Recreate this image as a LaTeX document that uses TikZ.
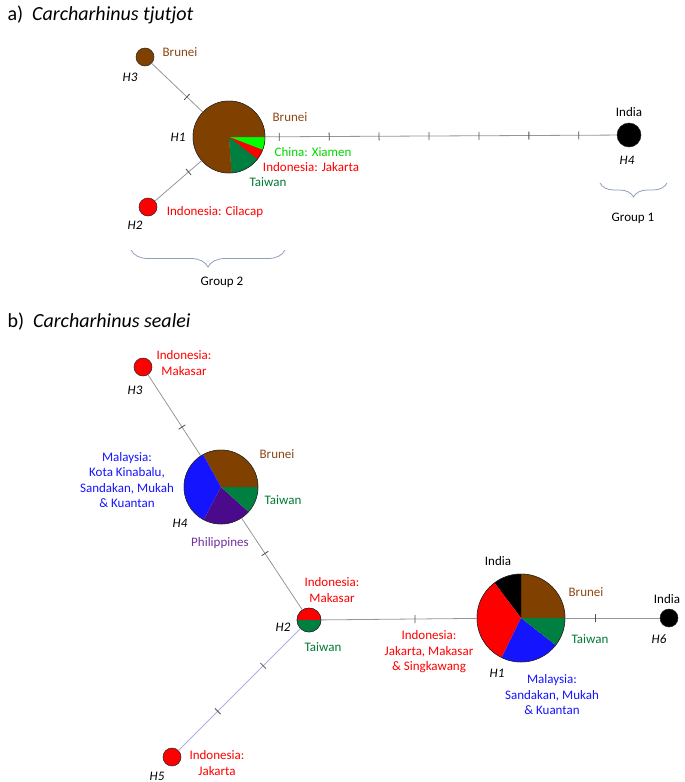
\documentclass[tikz,border=0pt]{standalone}
\usepackage{fontspec}
\setmainfont{Carlito}
\usetikzlibrary{decorations.pathreplacing}

\definecolor{cbrown}{RGB}{128,64,0}
\definecolor{clime}{RGB}{0,255,0}
\definecolor{cred}{RGB}{255,0,0}
\definecolor{cgreen}{RGB}{0,128,64}
\definecolor{cblue}{RGB}{20,20,255}
\definecolor{cpurple}{RGB}{75,10,140}
\definecolor{tbrown}{RGB}{140,70,20}
\definecolor{tlime}{RGB}{0,215,0}
\definecolor{tgreen}{RGB}{0,120,50}
\definecolor{tpurple}{RGB}{112,48,160}
\definecolor{linegray}{RGB}{150,150,150}
\definecolor{linelav}{RGB}{175,175,225}
\definecolor{tickgray}{RGB}{80,80,80}
\definecolor{bracegray}{RGB}{140,160,190}

\begin{document}
\begin{tikzpicture}[x=1pt,y=1pt,
  hap/.style={circle, draw=black!85, line width=0.5pt, inner sep=0pt},
  lbl/.style={font=\fontsize{13}{15.5}\selectfont, align=center, inner sep=0pt},
  hlbl/.style={font=\fontsize{13}{15.5}\selectfont\itshape, inner sep=0pt},
  link/.style={draw=linegray, line width=0.8pt},
  mtick/.style={sloped, draw=tickgray, line width=0.8pt, inner sep=0pt, minimum width=0pt, minimum height=8pt},
  grp/.style={decorate, decoration={brace, mirror, amplitude=#1}, draw=bracegray, line width=0.8pt}]
\useasboundingbox (0,0) rectangle (685,-782);

% a) Carcharhinus tjutjot
\node[anchor=west, font=\fontsize{20}{24}\selectfont] (ta) at (4,-15) {a)\hspace{0.45em}\textit{Carcharhinus tjutjot}};

\node[hap, fill=cbrown, minimum size=18] (a3) at (145,-57) {};
\node[hap, minimum size=72] (a1) at (229,-137) {};
\node[hap, fill=cred, minimum size=18] (a2) at (148,-207) {};
\node[hap, fill=black, minimum size=24] (a4) at (629,-135) {};

\foreach \s/\e/\c in {-86/0/cbrown, 0/-21/clime, -21/-38/cred, -38/-86/cgreen}
  \fill[\c] (a1.center) -- ++(\s:36) arc[start angle=\s, end angle=\e, radius=36] -- cycle;
\fill[cbrown] (a1.center) -- ++(0:36) arc[start angle=0, end angle=274, radius=36] -- cycle;
\draw[black!85, line width=0.5pt] (a1.center) circle[radius=36];

\draw[link] (a3) -- (a1) node[mtick, pos=0.69] {};
\draw[link] (a2) -- (a1) node[mtick, pos=0.72] {};
\draw[link] (a1) -- (a4) \foreach \k in {1,...,7} { node[mtick, pos={(50*\k-36)/352}] {} };

\node[lbl, text=tbrown] (a3_d) at (180,-52) {Brunei};
\node[hlbl] (a3_h) at (130,-77) {H3};
\node[lbl, text=tbrown] (a1_d) at (290,-117) {Brunei};
\node[hlbl] (a1_h) at (178,-137) {H1};
\node[lbl, text=tlime] (a1_c) at (313,-152) {China: Xiamen};
\node[lbl, text=cred] (a1_i) at (311,-167) {Indonesia: Jakarta};
\node[lbl, text=tgreen] (a1_t) at (268,-182) {Taiwan};
\node[lbl, text=cred] (a2_d) at (215,-212) {Indonesia: Cilacap};
\node[hlbl] (a2_h) at (135,-225) {H2};
\node[lbl] (a4_d) at (629,-112) {India};
\node[hlbl] (a4_h) at (627,-160) {H4};

\coordinate (g1l) at (600,-183);
\coordinate (g1r) at (667,-183);
\draw[grp=14] (g1l) -- (g1r);
\node[lbl] (g1) at (633,-218) {Group 1};
\coordinate (g2l) at (131,-250);
\coordinate (g2r) at (285,-250);
\draw[grp=17] (g2l) -- (g2r);
\node[lbl] (g2) at (222,-282) {Group 2};

% b) Carcharhinus sealei
\node[anchor=west, font=\fontsize{20}{24}\selectfont] (tb) at (4,-322) {b)\hspace{0.45em}\textit{Carcharhinus sealei}};

\node[hap, fill=cred, minimum size=18] (b3) at (143,-367) {};
\node[hap, minimum size=74] (b4) at (221,-487) {};
\node[hap, minimum size=24] (b2) at (309,-620) {};
\node[hap, minimum size=88] (b1) at (521,-618) {};
\node[hap, fill=black, minimum size=18] (b6) at (669,-618) {};
\node[hap, fill=cred, minimum size=18] (b5) at (172,-757) {};

\foreach \s/\e/\c in {0/119/cbrown, 119/242/cblue, 242/318/cpurple, 318/360/cgreen}
  \fill[\c] (b4.center) -- ++(\s:37) arc[start angle=\s, end angle=\e, radius=37] -- cycle;
\draw[black!85, line width=0.5pt] (b4.center) circle[radius=37];
\foreach \s/\e/\c in {0/180/cred, 180/360/cgreen}
  \fill[\c] (b2.center) -- ++(\s:12) arc[start angle=\s, end angle=\e, radius=12] -- cycle;
\draw[black!85, line width=0.5pt] (b2.center) circle[radius=12];
\foreach \s/\e/\c in {0/90/cbrown, 90/127/black, 127/244/cred, 244/322/cblue, 322/360/cgreen}
  \fill[\c] (b1.center) -- ++(\s:44) arc[start angle=\s, end angle=\e, radius=44] -- cycle;
\draw[black!85, line width=0.5pt] (b1.center) circle[radius=44];

\draw[link] (b3) -- (b4) node[mtick, pos=0.645] {};
\draw[link] (b4) -- (b2) node[mtick, pos=0.386] {};
\draw[link] (b2) -- (b1) node[mtick, pos=0.603] {};
\draw[link] (b1) -- (b6) node[mtick, pos=0.316] {};
\draw[link, draw=linelav] (b2) -- (b5) node[mtick, pos=0.305] {} node[mtick, pos=0.678] {};

\node[lbl, text=cred] (b3_d) at (184,-363) {Indonesia:\\Makasar};
\node[hlbl] (b3_h) at (135,-390) {H3};
\node[lbl, text=tbrown] (b4_b) at (277,-454) {Brunei};
\node[lbl, text=tgreen] (b4_t) at (283,-500) {Taiwan};
\node[lbl, text=cblue] (b4_m) at (127,-480) {Malaysia:\\Kota Kinabalu,\\Sandakan, Mukah\\\& Kuantan};
\node[hlbl] (b4_h) at (180,-523) {H4};
\node[lbl, text=tpurple] (b4_p) at (220,-543) {Philippines};
\node[lbl, text=cred] (b2_d) at (332,-590) {Indonesia:\\Makasar};
\node[hlbl] (b2_h) at (283,-627) {H2};
\node[lbl, text=tgreen] (b2_t) at (323,-647) {Taiwan};
\node[lbl] (b1_n) at (498,-561) {India};
\node[lbl, text=tbrown] (b1_b) at (586,-592) {Brunei};
\node[lbl, text=tgreen] (b1_t) at (590,-639) {Taiwan};
\node[lbl, text=cred] (b1_i) at (429,-652) {Indonesia:\\Jakarta, Makasar\\\& Singkawang};
\node[hlbl] (b1_h) at (497,-673) {H1};
\node[lbl, text=cblue] (b1_m) at (552,-695) {Malaysia:\\Sandakan, Mukah\\\& Kuantan};
\node[lbl] (b6_d) at (667,-599) {India};
\node[hlbl] (b6_h) at (659,-639) {H6};
\node[lbl, text=cred] (b5_d) at (217,-763) {Indonesia:\\Jakarta};
\node[hlbl] (b5_h) at (157,-776) {H5};
\end{tikzpicture}
\end{document}
